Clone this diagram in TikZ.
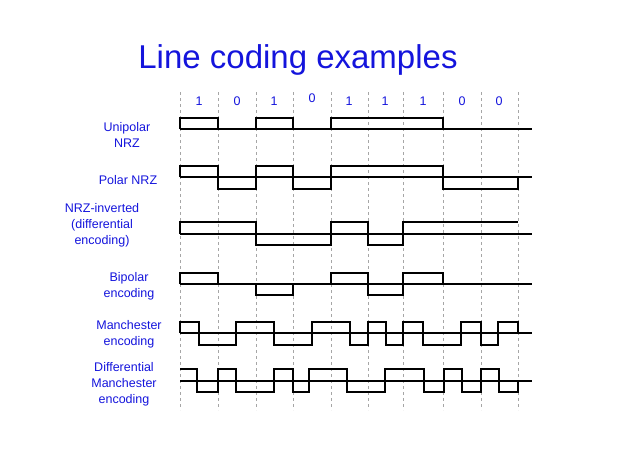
\documentclass[tikz,border=0pt]{standalone}
\usepackage{fontspec}
\setmainfont{Liberation Sans}
\definecolor{tblue}{RGB}{20,20,220}
\begin{document}
\begin{tikzpicture}[x=1pt,y=-1pt,
  lab/.style={text=tblue,font=\fontsize{12.5}{16}\selectfont,align=center},
  bit/.style={text=tblue,font=\fontsize{12.5}{14}\selectfont},
  sig/.style={line width=1.1pt,black},
  grid/.style={gray!70,dashed,line width=0.5pt}]
\useasboundingbox (0,0) rectangle (638,451);
\node[text=tblue,font=\fontsize{33}{38}\selectfont] (title) at (298,60) {Line coding examples};
% grid
\foreach \x in {180,218,256,293,331,368,403,443,481,518}
  \draw[grid] (\x,92) -- (\x,410);
% bits
\foreach \x/\b/\y in {199/1/101,237/0/101,274/1/101,312/0/98,349/1/101,385/1/101,423/1/101,462/0/101,499/0/101}
  \node[bit] at (\x,\y) {\b};
% labels
\node[lab] (l1) at (127,135) {Unipolar\\NRZ};
\node[lab] (l2) at (128,180) {Polar NRZ};
\node[lab] (l3) at (102,225) {NRZ-inverted\\(differential\\encoding)};
\node[lab] (l4) at (129,286) {Bipolar\\encoding};
\node[lab] (l5) at (129,334) {Manchester\\encoding};
\node[lab] (l6) at (124,384) {Differential\\Manchester\\encoding};
% Unipolar NRZ
\draw[sig] (180,129) -- (532,129);
\draw[sig] (180,129) |- (218,118) -- (218,129);
\draw[sig] (256,129) |- (293,118) -- (293,129);
\draw[sig] (331,129) |- (443,118) -- (443,129);
% Polar NRZ
\draw[sig] (180,177) -- (532,177);
\draw[sig] (180,177) -- (180,166) -- (218,166) -- (218,189) -- (256,189) -- (256,166) -- (293,166) -- (293,189) -- (331,189) -- (331,166) -- (443,166) -- (443,189) -- (518,189) -- (518,177);
% NRZI
\draw[sig] (180,234) -- (532,234);
\draw[sig] (180,234) -- (180,222) -- (256,222) -- (256,245) -- (331,245) -- (331,222) -- (368,222) -- (368,245) -- (403,245) -- (403,222) -- (518,222);
% Bipolar
\draw[sig] (180,284) -- (532,284);
\draw[sig] (180,284) |- (218,273) -- (218,284);
\draw[sig] (256,284) |- (293,295) -- (293,284);
\draw[sig] (331,284) |- (368,273) -- (368,295) -- (403,295) -- (403,273) -- (443,273) -- (443,284);
% Manchester
\draw[sig] (180,333) -- (532,333);
\draw[sig] (180,333) -- (180,322) -- (199,322) -- (199,345) -- (236,345) -- (236,322) -- (274,322) -- (274,345) -- (312,345) -- (312,322) -- (350,322) -- (350,345) -- (368,345) -- (368,322) -- (386,322) -- (386,345) -- (403,345) -- (403,322) -- (423,322) -- (423,345) -- (461,345) -- (461,322) -- (481,322) -- (481,345) -- (498,345) -- (498,322) -- (518,322) -- (518,333);
% Differential Manchester
\draw[sig] (180,381) -- (532,381);
\draw[sig] (180,369) -- (197,369) -- (197,392) -- (218,392) -- (218,369) -- (236,369) -- (236,392) -- (274,392) -- (274,369) -- (293,369) -- (293,392) -- (309,392) -- (309,369) -- (347,369) -- (347,392) -- (385,392) -- (385,369) -- (424,369) -- (424,392) -- (444,392) -- (444,369) -- (462,369) -- (462,392) -- (481,392) -- (481,369) -- (499,369) -- (499,392) -- (518,392) -- (518,381);
\end{tikzpicture}
\end{document}
